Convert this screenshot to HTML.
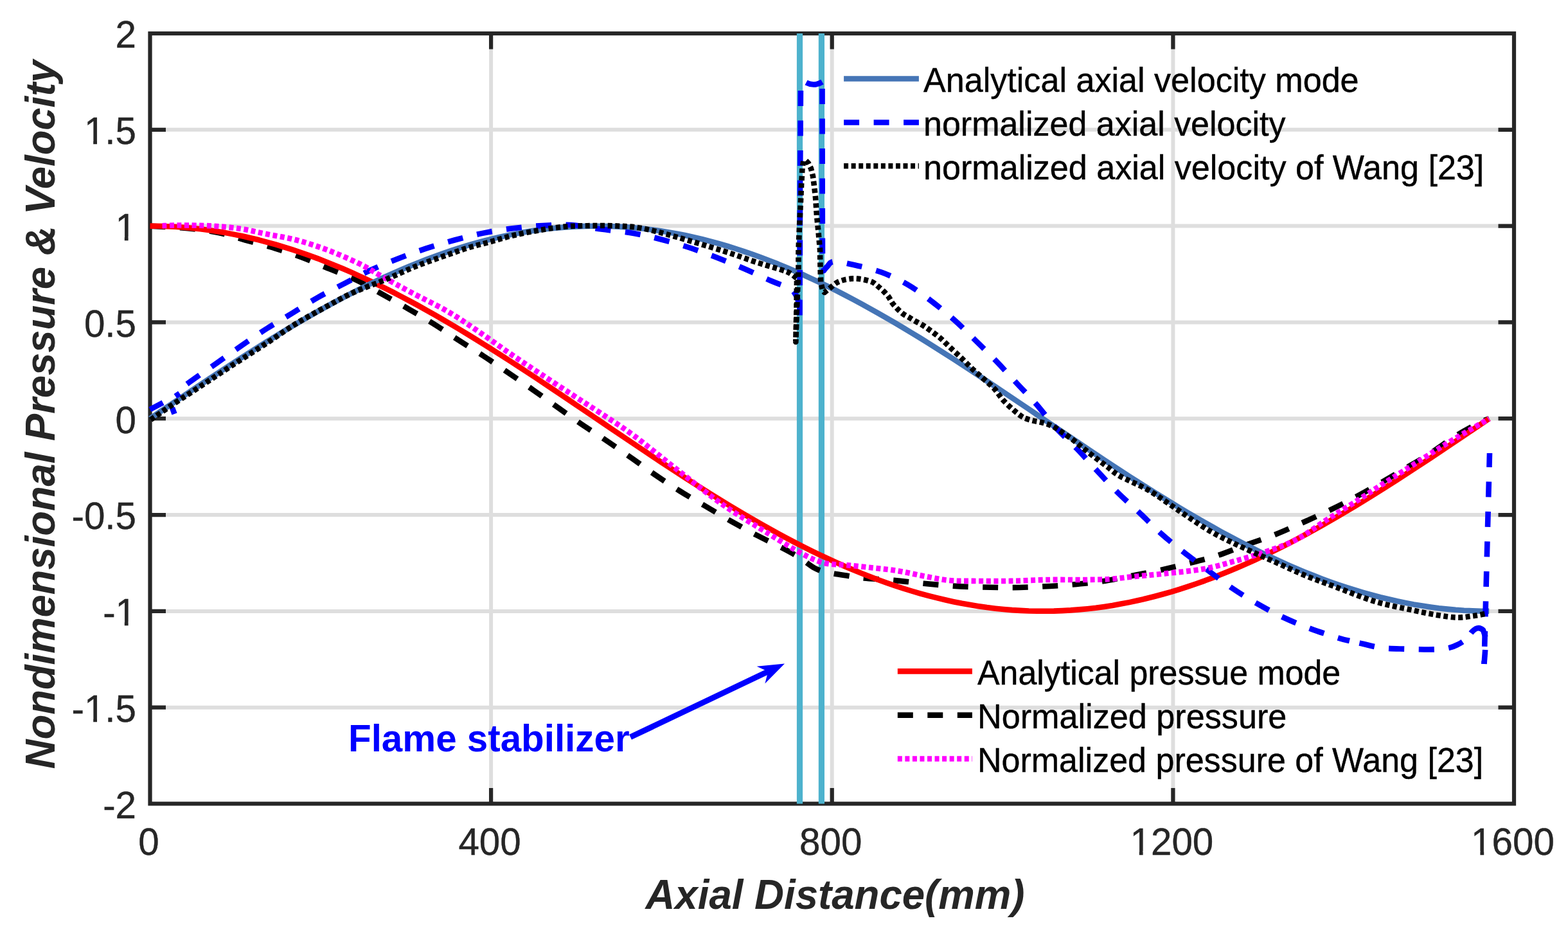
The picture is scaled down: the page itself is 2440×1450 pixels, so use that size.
<!DOCTYPE html>
<html><head><meta charset="utf-8"><title>Nondimensional Pressure &amp; Velocity</title>
<style>html,body{margin:0;padding:0;background:#fff;overflow:hidden;}svg{display:block;}</style></head>
<body>
<svg width="2440" height="1450" viewBox="0 0 2440 1450">
<rect x="0" y="0" width="2440" height="1450" fill="#fff"/>
<path d="M764.1 52 V1250.5 M1294.7 52 V1250.5 M1825.4 52 V1250.5 M233.5 201.8 H2356 M233.5 351.6 H2356 M233.5 501.4 H2356 M233.5 651.2 H2356 M233.5 801 H2356 M233.5 950.9 H2356 M233.5 1100.7 H2356" stroke="#dedede" stroke-width="6" fill="none"/>
<path d="M764.1 1250.5 v-24.5 M764.1 52 v24.5 M1294.7 1250.5 v-24.5 M1294.7 52 v24.5 M1825.4 1250.5 v-24.5 M1825.4 52 v24.5 M233.5 201.8 h24.5 M2356 201.8 h-24.5 M233.5 351.6 h24.5 M2356 351.6 h-24.5 M233.5 501.4 h24.5 M2356 501.4 h-24.5 M233.5 651.2 h24.5 M2356 651.2 h-24.5 M233.5 801 h24.5 M2356 801 h-24.5 M233.5 950.9 h24.5 M2356 950.9 h-24.5 M233.5 1100.7 h24.5 M2356 1100.7 h-24.5" stroke="#262626" stroke-width="6.25" fill="none"/>
<rect x="233.5" y="52" width="2122.5" height="1198.4" stroke="#262626" stroke-width="6.25" fill="none"/>
<path d="M1244.5 52 V1250.5" stroke="#4db2cd" stroke-width="9.2" fill="none"/>
<path d="M1278.4 52 V1250.5" stroke="#4db2cd" stroke-width="9.2" fill="none"/>
<path d="M233.5 351.7 C243.3 352.3 274.6 353.6 292.4 355.3 C310.1 357 325.1 359 340 362 C354.9 365 367.5 369.6 381.7 373.5 C395.9 377.4 410.7 381.1 425.2 385.5 C439.7 389.9 454.1 394.6 468.6 400 C483.1 405.4 497.6 412.1 512.1 418.1 C526.6 424.1 541.2 429.3 555.5 436.2 C569.8 443.1 584.5 452.1 598 459.5 C611.5 466.9 623.4 473.5 636.2 480.9 C649 488.3 661.9 495.8 674.8 503.8 C687.7 511.9 700.4 520.8 713.5 529.2 C726.6 537.7 740.4 546.1 753.3 554.5 C766.2 562.9 778 571.1 790.7 579.8 C803.4 588.4 816.6 597.5 829.3 606.4 C842 615.3 854.2 624.1 866.7 633 C879.2 641.9 892 651.2 904.2 659.5 C916.4 667.8 926.6 673.9 940 683 C953.4 692.1 971.7 704.8 984.8 714 C997.9 723.2 1006.5 729.9 1018.6 738.1 C1030.7 746.4 1044.3 755.5 1057.2 763.5 C1070.1 771.5 1082.6 778.6 1095.9 786.4 C1109.2 794.2 1123.4 802.9 1136.9 810.5 C1150.4 818.1 1163.2 825.2 1176.7 832.3 C1190.2 839.3 1206.4 846.8 1217.8 852.8 C1229.2 858.8 1236.6 862.8 1245 868 C1253.4 873.2 1260.5 880.2 1268 884 C1275.5 887.8 1281.3 889 1290 891 C1298.7 893 1310.9 894.6 1320 896 C1329.1 897.4 1332.7 898.4 1344.5 899.5 C1356.3 900.6 1375.4 901.5 1390.9 902.9 C1406.4 904.3 1422 906.3 1437.3 907.8 C1452.6 909.2 1467.5 910.6 1482.6 911.6 C1497.7 912.6 1512.7 913.1 1528 913.5 C1543.3 913.9 1559 914.2 1574.4 914.1 C1589.9 914 1605.2 913.3 1620.7 912.6 C1636.2 911.9 1651.8 911 1667.1 909.7 C1682.4 908.4 1698.3 906.9 1712.5 904.9 C1726.7 902.9 1737 900.4 1752 897.5 C1767 894.6 1786.7 891.1 1802.8 887.6 C1818.9 884.1 1833.5 880.5 1848.6 876.7 C1863.7 872.9 1878.8 869.3 1893.3 864.7 C1907.8 860.1 1921 854.2 1935.5 849 C1950 843.8 1965.7 838.9 1980.2 833.3 C1994.7 827.7 2008.3 821.4 2022.4 815.2 C2036.5 809 2050.8 802.5 2064.7 795.9 C2078.6 789.3 2092.3 782.5 2105.7 775.4 C2119.1 768.3 2132 760.8 2145.2 753.2 C2158.4 745.6 2171.8 737.7 2184.8 730 C2197.8 722.3 2209.9 715.6 2223.4 706.9 C2236.9 698.2 2253 685.9 2265.9 677.9 C2278.8 669.9 2292 663 2300.6 658.6 C2309.2 654.2 2314.5 652.5 2317.3 651.3" stroke="#000" stroke-width="8.6" fill="none" stroke-linejoin="round" stroke-dasharray="24 22.5"/>
<path d="M233.5 351.6 L246.5 351.8 L259.5 352.2 L272.6 352.8 L285.6 353.7 L298.6 354.9 L311.6 356.3 L324.7 358 L337.7 359.9 L350.7 362.1 L363.7 364.6 L376.8 367.2 L389.8 370.2 L402.8 373.3 L415.8 376.8 L428.9 380.4 L441.9 384.3 L454.9 388.4 L467.9 392.8 L480.9 397.3 L494 402.1 L507 407.2 L520 412.4 L533 417.8 L546.1 423.4 L559.1 429.3 L572.1 435.3 L585.1 441.5 L598.2 447.9 L611.2 454.4 L624.2 461.2 L637.2 468.1 L650.3 475.1 L663.3 482.4 L676.3 489.7 L689.3 497.2 L702.3 504.9 L715.4 512.6 L728.4 520.5 L741.4 528.5 L754.4 536.6 L767.5 544.8 L780.5 553.1 L793.5 561.5 L806.5 569.9 L819.6 578.5 L832.6 587 L845.6 595.7 L858.6 604.4 L871.7 613.1 L884.7 621.9 L897.7 630.7 L910.7 639.5 L923.7 648.3 L936.8 657.1 L949.8 666 L962.8 674.8 L975.8 683.5 L988.9 692.3 L1001.9 701 L1014.9 709.7 L1027.9 718.3 L1041 726.9 L1054 735.4 L1067 743.8 L1080 752.2 L1093 760.4 L1106.1 768.6 L1119.1 776.7 L1132.1 784.6 L1145.1 792.5 L1158.2 800.2 L1171.2 807.8 L1184.2 815.2 L1197.2 822.6 L1210.3 829.7 L1223.3 836.7 L1236.3 843.6 L1249.3 850.3 L1262.4 856.8 L1275.4 863.1 L1288.4 869.2 L1301.4 875.2 L1314.4 881 L1327.5 886.5 L1340.5 891.9 L1353.5 897 L1366.5 902 L1379.6 906.7 L1392.6 911.2 L1405.6 915.5 L1418.6 919.5 L1431.7 923.3 L1444.7 926.9 L1457.7 930.2 L1470.7 933.3 L1483.8 936.2 L1496.8 938.8 L1509.8 941.1 L1522.8 943.2 L1535.8 945.1 L1548.9 946.7 L1561.9 948 L1574.9 949.1 L1587.9 949.9 L1601 950.5 L1614 950.8 L1627 950.8 L1640 950.6 L1653.1 950.1 L1666.1 949.4 L1679.1 948.4 L1692.1 947.2 L1705.2 945.7 L1718.2 943.9 L1731.2 941.9 L1744.2 939.6 L1757.2 937.1 L1770.3 934.3 L1783.3 931.3 L1796.3 928 L1809.3 924.5 L1822.4 920.8 L1835.4 916.8 L1848.4 912.6 L1861.4 908.2 L1874.5 903.6 L1887.5 898.7 L1900.5 893.6 L1913.5 888.3 L1926.6 882.8 L1939.6 877.1 L1952.6 871.3 L1965.6 865.2 L1978.6 858.9 L1991.7 852.4 L2004.7 845.8 L2017.7 839 L2030.7 832.1 L2043.8 825 L2056.8 817.7 L2069.8 810.3 L2082.8 802.7 L2095.9 795.1 L2108.9 787.3 L2121.9 779.3 L2134.9 771.3 L2148 763.2 L2161 754.9 L2174 746.6 L2187 738.2 L2200 729.7 L2213.1 721.2 L2226.1 712.6 L2239.1 703.9 L2252.1 695.2 L2265.2 686.5 L2278.2 677.7 L2291.2 668.9 L2304.2 660.1 L2317.3 651.2" stroke="#ff0000" stroke-width="8.6" fill="none" stroke-linejoin="round" />
<path d="M233.5 651.2 L246.5 642.4 L259.5 633.6 L272.6 624.8 L285.6 616 L298.6 607.3 L311.6 598.6 L324.7 589.9 L337.7 581.3 L350.7 572.8 L363.7 564.3 L376.8 555.9 L389.8 547.6 L402.8 539.3 L415.8 531.2 L428.9 523.2 L441.9 515.2 L454.9 507.4 L467.9 499.8 L480.9 492.2 L494 484.8 L507 477.5 L520 470.4 L533 463.5 L546.1 456.7 L559.1 450.1 L572.1 443.6 L585.1 437.3 L598.2 431.2 L611.2 425.4 L624.2 419.7 L637.2 414.2 L650.3 408.9 L663.3 403.8 L676.3 398.9 L689.3 394.3 L702.3 389.9 L715.4 385.7 L728.4 381.7 L741.4 378 L754.4 374.5 L767.5 371.2 L780.5 368.2 L793.5 365.4 L806.5 362.9 L819.6 360.6 L832.6 358.6 L845.6 356.8 L858.6 355.3 L871.7 354.1 L884.7 353.1 L897.7 352.4 L910.7 351.9 L923.7 351.7 L936.8 351.7 L949.8 352 L962.8 352.6 L975.8 353.4 L988.9 354.5 L1001.9 355.8 L1014.9 357.4 L1027.9 359.3 L1041 361.4 L1054 363.7 L1067 366.3 L1080 369.2 L1093 372.3 L1106.1 375.6 L1119.1 379.2 L1132.1 383 L1145.1 387 L1158.2 391.3 L1171.2 395.8 L1184.2 400.5 L1197.2 405.5 L1210.3 410.6 L1223.3 416 L1236.3 421.5 L1249.3 427.3 L1262.4 433.3 L1275.4 439.4 L1288.4 445.7 L1301.4 452.2 L1314.4 458.9 L1327.5 465.8 L1340.5 472.8 L1353.5 479.9 L1366.5 487.3 L1379.6 494.7 L1392.6 502.3 L1405.6 510 L1418.6 517.9 L1431.7 525.8 L1444.7 533.9 L1457.7 542.1 L1470.7 550.3 L1483.8 558.7 L1496.8 567.1 L1509.8 575.6 L1522.8 584.2 L1535.8 592.8 L1548.9 601.5 L1561.9 610.2 L1574.9 619 L1587.9 627.7 L1601 636.5 L1614 645.4 L1627 654.2 L1640 663 L1653.1 671.8 L1666.1 680.6 L1679.1 689.4 L1692.1 698.1 L1705.2 706.8 L1718.2 715.5 L1731.2 724 L1744.2 732.6 L1757.2 741 L1770.3 749.4 L1783.3 757.7 L1796.3 765.9 L1809.3 774 L1822.4 782 L1835.4 789.9 L1848.4 797.6 L1861.4 805.3 L1874.5 812.8 L1887.5 820.1 L1900.5 827.4 L1913.5 834.4 L1926.6 841.3 L1939.6 848.1 L1952.6 854.6 L1965.6 861 L1978.6 867.2 L1991.7 873.2 L2004.7 879.1 L2017.7 884.7 L2030.7 890.1 L2043.8 895.3 L2056.8 900.4 L2069.8 905.2 L2082.8 909.7 L2095.9 914.1 L2108.9 918.2 L2121.9 922.1 L2134.9 925.7 L2148 929.2 L2161 932.3 L2174 935.3 L2187 937.9 L2200 940.4 L2213.1 942.6 L2226.1 944.5 L2239.1 946.2 L2252.1 947.6 L2265.2 948.8 L2278.2 949.7 L2291.2 950.3 L2304.2 950.7 L2317.3 950.9" stroke="#4575b6" stroke-width="8.6" fill="none" stroke-linejoin="round" />
<path d="M233.5 637 L253.5 626.5" stroke="#0000ff" stroke-width="8.6" fill="none" stroke-linejoin="round" />
<path d="M268 634.5 L271.5 644" stroke="#0000ff" stroke-width="8.6" fill="none" stroke-linejoin="round" />
<path d="M273 616.5 L279.5 612" stroke="#0000ff" stroke-width="8.6" fill="none" stroke-linejoin="round" />
<path d="M291 597.5 C292.8 596.2 293.7 595.3 302 589.5 C310.3 583.7 328.2 571.2 340.7 562.5 C353.2 553.8 364.4 545.6 376.9 537 C389.4 528.4 402.4 519.4 415.5 511 C428.6 502.6 442.1 495 455.4 486.9 C468.7 478.8 481.7 470.1 495.2 462.5 C508.7 454.9 522.7 448 536.2 441 C549.7 434 562.2 426.9 576.1 420.5 C590 414.1 604.8 408 619.3 402.4 C633.8 396.8 648.1 391.5 662.8 386.7 C677.5 381.9 692.5 377.5 707.4 373.5 C722.3 369.5 737 365.6 752.1 362.6 C767.2 359.6 782.7 357.2 798 355.3 C813.3 353.4 828.6 351.9 843.8 351 C859 350.1 873.7 349.1 889 350 C904.3 350.9 919.3 354.4 935.5 356.6 C951.7 358.8 970.8 360.4 986 363 C1001.2 365.6 1012.7 368.3 1027 372 C1041.3 375.7 1057.3 380.2 1072 385 C1086.7 389.8 1100.7 395.1 1115 400.6 C1129.3 406.1 1143.8 411.9 1158 418 C1172.2 424.1 1188.8 432.2 1200 437 C1211.2 441.8 1219 444 1225 447 C1231 450 1233.2 451.5 1236 455 C1238.8 458.5 1240.6 461.8 1242 468 C1243.4 474.2 1244.1 488 1244.5 492" stroke="#0000ff" stroke-width="8.6" fill="none" stroke-linejoin="round" stroke-dasharray="24 22.5"/>
<path d="M1244.5 492 L1245 300 L1246 128" stroke="#0000ff" stroke-width="8.6" fill="none" stroke-linejoin="round" stroke-dasharray="24 22.5" stroke-dashoffset="-1.5"/>
<path d="M1254.5 128.5 Q1267 135 1279.5 127.5" stroke="#0000ff" stroke-width="8.6" fill="none" stroke-linejoin="round" />
<path d="M1279.5 128 L1279.7 300 L1280 410 L1282 421 L1282 421 C1282.8 420 1284.5 417.3 1287 415 C1289.5 412.7 1290.5 407.6 1297 407 C1303.5 406.4 1313.6 408.8 1326 411.5 C1338.4 414.2 1357.1 418.3 1371.4 423.5 C1385.7 428.7 1399 435 1412 442.5 C1425 450 1437.2 459.2 1449.4 468.5 C1461.7 477.8 1474 488.1 1485.5 498.3 C1497 508.5 1507.2 519 1518.1 529.7 C1529 540.4 1540 551.2 1550.7 562.3 C1561.4 573.4 1571.6 584.9 1582.1 596.1 C1592.6 607.4 1603.5 618.3 1613.5 629.8 C1623.5 641.3 1632 653.4 1642.4 664.9 C1652.9 676.4 1665.8 687.8 1676.2 698.6 C1686.6 709.5 1694.4 718.6 1705 730 C1715.6 741.4 1728.5 755.6 1740 767 C1751.5 778.4 1762.7 787.8 1773.8 798.3 C1784.9 808.8 1795.1 819.7 1806.4 829.7 C1817.7 839.8 1829.1 849 1841.4 858.6 C1853.7 868.2 1867.5 878.3 1880 887.6 C1892.5 896.9 1903.7 905.8 1916.2 914.2 C1928.7 922.7 1941.5 930.7 1954.8 938.3 C1968.1 945.9 1981.8 953.4 1995.9 960 C2010 966.6 2024.8 972.7 2039.3 978.1 C2053.8 983.5 2072.7 989.5 2082.8 992.6 C2092.9 995.8 2097.1 996.3 2100 997" stroke="#0000ff" stroke-width="8.6" fill="none" stroke-linejoin="round" stroke-dasharray="24 22.5" stroke-dashoffset="-10"/>
<path d="M2100 997 C2103.3 997.8 2111.7 999.7 2120 1001.5 C2128.3 1003.3 2138.5 1006.5 2149.7 1007.9 C2160.8 1009.3 2173.4 1009.3 2186.9 1009.7 C2200.4 1010.1 2219 1010.7 2230.4 1010.4 C2241.8 1010.1 2248.6 1009.3 2255.2 1007.9 C2261.8 1006.5 2265.7 1004.1 2270 1002 C2274.3 999.9 2279.2 996.2 2281 995" stroke="#0000ff" stroke-width="8.6" fill="none" stroke-linejoin="round" stroke-dasharray="24 22.5" stroke-dashoffset="-16"/>
<path d="M2289 985 Q2299 972 2308 980.5 L2311.5 991" stroke="#0000ff" stroke-width="8.6" fill="none" stroke-linejoin="round" />
<path d="M2311.2 1011 L2309.5 1033" stroke="#0000ff" stroke-width="8.6" fill="none" stroke-linejoin="round" />
<path d="M2309.5 1033 L2318 705" stroke="#0000ff" stroke-width="8.6" fill="none" stroke-linejoin="round" stroke-dasharray="24 22.5" stroke-dashoffset="-27.2"/>
<path d="M252.5 351.2 C257.1 351.1 267.1 350.4 280 350.5 C292.9 350.6 314.2 350.6 330 351.5 C345.8 352.4 361.1 353.9 375 356 C388.9 358.1 398.7 360.9 413.1 363.8 C427.5 366.7 445.3 369.3 461.4 373.5 C477.5 377.7 493.6 383 509.7 389 C525.8 395 543.9 402.9 558 409.7 C572.1 416.5 580.5 422.4 594.2 430 C607.9 437.6 622.9 445.9 640 455 C657.1 464.1 679.1 474.3 696.6 484.5 C714.1 494.7 728.9 505.1 745 516 C761.1 526.9 777.3 538.9 793.1 549.7 C808.9 560.5 823.9 570.4 840 581 C856.1 591.6 873.9 603.3 889.7 613.6 C905.5 623.9 918.9 632.3 935 643 C951.1 653.7 966.6 663.1 986.2 677.6 C1005.8 692.1 1029.3 711.8 1052.4 729.7 C1075.5 747.6 1100.7 768.3 1124.8 785.2 C1148.9 802.1 1177.2 818.5 1197.3 831 C1217.4 843.5 1231.4 852.5 1245.5 860 C1259.6 867.5 1269.7 872.5 1281.8 875.7 C1293.9 878.9 1305 878 1318 879.3 C1331 880.6 1346.6 882.1 1360 883.6 C1373.4 885.1 1385.7 886.3 1398.6 888.4 C1411.5 890.5 1424.4 893.8 1437.3 896.2 C1450.2 898.6 1463 901.6 1475.9 902.9 C1488.8 904.2 1498.4 903.7 1514.5 903.9 C1530.6 904.1 1553.2 904.2 1572.5 903.9 C1591.8 903.6 1611.1 902.3 1630.4 902 C1649.7 901.7 1672.2 902.2 1688.3 902 C1704.4 901.8 1715 901.8 1727 901 C1739 900.2 1745.8 898.9 1760 897.5 C1774.2 896.1 1793.6 894.4 1812.4 892.4 C1831.2 890.4 1854.7 888.4 1872.8 885.2 C1890.9 882 1904.9 877.5 1921 873.1 C1937.1 868.7 1953.2 864.2 1969.3 858.6 C1985.4 853 2001.5 847.8 2017.6 839.3 C2033.7 830.8 2049.8 818.2 2065.9 807.9 C2082 797.6 2099.3 787 2114.2 777.5 C2129 768 2141.6 759.5 2155 751 C2168.4 742.5 2178.2 736.5 2194.4 726.2 C2210.6 716 2231.9 702 2252.4 689.5 C2272.9 677 2306.5 657.8 2317.3 651.5" stroke="#ff00ff" stroke-width="8.6" fill="none" stroke-linejoin="round" stroke-dasharray="7 4.55"/>
<path d="M234.5 653 C240.4 648.9 256.3 637.7 270 628.5 C283.7 619.3 300.8 608.4 316.6 598 C332.4 587.6 348.9 576.5 365 566 C381.1 555.5 397.3 545.5 413.1 535.2 C428.9 524.9 443.9 513.9 460 504 C476.1 494.1 494.7 484.2 509.7 476 C524.7 467.8 535 461.8 550 455 C565 448.2 583.7 441.8 600 435 C616.3 428.2 631.9 420.4 648 414 C664.1 407.6 682.9 401.2 696.6 396.4 C710.3 391.6 718.7 388.4 730 385 C741.3 381.6 752.5 379.1 764.2 375.9 C775.9 372.7 787.1 369 800 366 C812.9 363 828.1 360.1 841.4 357.8 C854.7 355.6 867.9 353.6 880 352.5 C892.1 351.4 900.5 351.4 913.8 351.2 C927.1 351 945.6 350.8 960 351.5 C974.4 352.2 984.6 352.4 1000 355.3 C1015.4 358.2 1031.6 362.8 1052.4 368.6 C1073.2 374.4 1103.5 383.6 1124.8 390.3 C1146.1 397 1165.2 404.2 1180 409 C1194.8 413.8 1205.6 416.4 1213.6 419 C1221.6 421.6 1223.6 422.1 1228 424.4 C1232.4 426.7 1238 431.6 1240 433 L1240 433 L1239.5 480 L1238.3 532 L1240 480 L1242.5 420 L1242.5 389 L1244 352.7 L1245.8 316.9 L1247.2 285 L1248.5 262 L1250.4 250 L1254 250 L1258 254 L1262 262 L1265 274 L1267.3 291.8 L1269.1 307.9 L1270.9 334.8 L1273.6 361.7 L1276 388.6 L1276.5 415.4 L1277.2 438.7 L1280 451 L1283 455 L1283 455 C1284.5 453.8 1289 450.1 1292.2 447.6 C1295.4 445.1 1298.7 441.8 1301.9 439.9 C1305.1 438 1307.8 437.1 1311.5 436 C1315.2 434.9 1320.1 434 1324 433.6 C1327.9 433.2 1331 433.3 1334.7 433.6 C1338.4 433.9 1342.4 434.6 1346.3 435.5 C1350.2 436.4 1354.5 437.3 1357.9 439 C1361.3 440.7 1363.7 443.3 1366.6 445.7 C1369.5 448.1 1372.6 450.7 1375.3 453.4 C1378 456.1 1380.8 459.1 1383 462.1 C1385.2 465.2 1386.5 468.6 1388.8 471.7 C1391 474.8 1393.8 477.6 1396.5 480.4 C1399.2 483.1 1402.1 485.9 1405.2 488.2 C1408.3 490.5 1411.7 492.1 1414.9 494 C1418.1 495.9 1421.1 497.8 1424.5 499.7 C1427.9 501.6 1431.7 503.4 1435.1 505.5 C1438.5 507.6 1440.1 508.6 1444.8 512 C1449.5 515.4 1457.2 520.8 1463 525.8 C1468.8 530.8 1474.1 536.4 1479.7 541.7 C1485.3 547 1491.2 552.2 1496.7 557.6 C1502.2 563 1507.4 568.5 1513 573.8 C1518.6 579.1 1524.7 584 1530.4 589.2 C1536.2 594.4 1542.3 599.4 1547.5 605 C1552.7 610.6 1556.2 617.3 1561.3 622.9 C1566.4 628.5 1573.2 634.4 1578 638.6 C1582.8 642.8 1586.8 645.9 1590 648 C1593.2 650.1 1594.1 650.3 1597.1 651.4 C1600.1 652.5 1604.5 653.8 1608.2 654.7 C1611.9 655.6 1615.7 655.9 1619.4 656.8 C1623.1 657.7 1626.9 658.7 1630.5 660 C1634.1 661.3 1637.6 662.9 1641 664.8 C1644.4 666.7 1646.2 668.1 1651 671.3 C1655.8 674.5 1663.7 679.7 1669.7 684.2 C1675.7 688.8 1681.2 693.8 1687.2 698.6 C1693.2 703.4 1699.5 708.2 1705.6 712.9 C1711.7 717.6 1717.8 722.2 1724 726.8 C1730.2 731.4 1732.1 734.6 1742.8 740.7 C1753.5 746.8 1772.7 754.1 1788.3 763.3 C1803.9 772.5 1820.5 785.2 1836.6 795.9 C1852.7 806.6 1868.7 818 1884.8 827.3 C1900.9 836.5 1917 843.8 1933.1 851.4 C1949.2 859 1965.3 865.9 1981.4 873.1 C1997.5 880.3 2013.6 888.1 2029.7 894.8 C2045.8 901.4 2059.6 906.1 2078 913 C2096.4 919.9 2119.8 929.8 2140 935.9 C2160.2 942 2183.2 946 2199.3 949.5 C2215.4 953 2225.2 955.1 2236.6 957 C2248 958.9 2258.3 960.5 2267.6 960.7 C2276.9 960.9 2284.8 959.2 2292.5 958.2 C2300.2 957.2 2310.1 955.1 2313.6 954.5" stroke="#000" stroke-width="8.6" fill="none" stroke-linejoin="round" stroke-dasharray="7 4.55"/>
<text x="212" y="74.3" font-family="Liberation Sans, Arial, Helvetica, sans-serif" font-size="58.33" fill="#262626" stroke="#262626" stroke-width="0.4" text-anchor="end">2</text>
<text x="212" y="224.1" font-family="Liberation Sans, Arial, Helvetica, sans-serif" font-size="58.33" fill="#262626" stroke="#262626" stroke-width="0.4" text-anchor="end">1.5</text>
<text x="212" y="373.9" font-family="Liberation Sans, Arial, Helvetica, sans-serif" font-size="58.33" fill="#262626" stroke="#262626" stroke-width="0.4" text-anchor="end">1</text>
<text x="212" y="523.8" font-family="Liberation Sans, Arial, Helvetica, sans-serif" font-size="58.33" fill="#262626" stroke="#262626" stroke-width="0.4" text-anchor="end">0.5</text>
<text x="212" y="673.5" font-family="Liberation Sans, Arial, Helvetica, sans-serif" font-size="58.33" fill="#262626" stroke="#262626" stroke-width="0.4" text-anchor="end">0</text>
<text x="212" y="823.3" font-family="Liberation Sans, Arial, Helvetica, sans-serif" font-size="58.33" fill="#262626" stroke="#262626" stroke-width="0.4" text-anchor="end">-0.5</text>
<text x="212" y="973.1" font-family="Liberation Sans, Arial, Helvetica, sans-serif" font-size="58.33" fill="#262626" stroke="#262626" stroke-width="0.4" text-anchor="end">-1</text>
<text x="212" y="1123" font-family="Liberation Sans, Arial, Helvetica, sans-serif" font-size="58.33" fill="#262626" stroke="#262626" stroke-width="0.4" text-anchor="end">-1.5</text>
<text x="212" y="1272.8" font-family="Liberation Sans, Arial, Helvetica, sans-serif" font-size="58.33" fill="#262626" stroke="#262626" stroke-width="0.4" text-anchor="end">-2</text>
<text x="231.5" y="1329.5" font-family="Liberation Sans, Arial, Helvetica, sans-serif" font-size="58.33" fill="#262626" stroke="#262626" stroke-width="0.4" text-anchor="middle">0</text>
<text x="762.1" y="1329.5" font-family="Liberation Sans, Arial, Helvetica, sans-serif" font-size="58.33" fill="#262626" stroke="#262626" stroke-width="0.4" text-anchor="middle">400</text>
<text x="1292.7" y="1329.5" font-family="Liberation Sans, Arial, Helvetica, sans-serif" font-size="58.33" fill="#262626" stroke="#262626" stroke-width="0.4" text-anchor="middle">800</text>
<text x="1823.4" y="1329.5" font-family="Liberation Sans, Arial, Helvetica, sans-serif" font-size="58.33" fill="#262626" stroke="#262626" stroke-width="0.4" text-anchor="middle">1200</text>
<text x="2354" y="1329.5" font-family="Liberation Sans, Arial, Helvetica, sans-serif" font-size="58.33" fill="#262626" stroke="#262626" stroke-width="0.4" text-anchor="middle">1600</text>
<path d="M133.4 218.5 H145.2 V225.7 H133.4 Z M151 218.5 H162.9 V225.7 H151 Z M182 368.3 H193.8 V375.6 H182 Z M199.6 368.3 H211.5 V375.6 H199.6 Z M182 967.5 H193.8 V974.8 H182 Z M199.6 967.5 H211.5 V974.8 H199.6 Z M133.4 1117.4 H145.2 V1124.5 H133.4 Z M151 1117.4 H162.9 V1124.5 H151 Z M1761 1323.9 H1772.8 V1331.1 H1761 Z M1778.6 1323.9 H1790.5 V1331.1 H1778.6 Z M2291.6 1323.9 H2303.4 V1331.1 H2291.6 Z M2309.2 1323.9 H2321.1 V1331.1 H2309.2 Z" fill="#fff"/>
<text x="1299.5" y="1413.8" font-family="Liberation Sans, Arial, Helvetica, sans-serif" font-size="64.17" font-weight="bold" font-style="italic" fill="#262626" text-anchor="middle" textLength="590.1" lengthAdjust="spacingAndGlyphs">Axial Distance(mm)</text>
<text transform="translate(85 644.85) rotate(-90)" x="0" y="0" font-family="Liberation Sans, Arial, Helvetica, sans-serif" font-size="64.17" font-weight="bold" font-style="italic" fill="#262626" text-anchor="middle" textLength="1102.6" lengthAdjust="spacingAndGlyphs">Nondimensional Pressure &amp; Velocity</text>
<path d="M1313.1 122.5 H1429.9" stroke="#4575b6" stroke-width="8.6" fill="none" />
<text x="1437" y="142.9" font-family="Liberation Sans, Arial, Helvetica, sans-serif" font-size="54" fill="#000" stroke="#000" stroke-width="0.45" textLength="677.6" lengthAdjust="spacingAndGlyphs">Analytical axial velocity mode</text>
<path d="M1313.1 190.5 H1429.9" stroke="#0000ff" stroke-width="8.6" fill="none" stroke-dasharray="24 22.5"/>
<text x="1437" y="210.9" font-family="Liberation Sans, Arial, Helvetica, sans-serif" font-size="54" fill="#000" stroke="#000" stroke-width="0.45" textLength="563.5" lengthAdjust="spacingAndGlyphs">normalized axial velocity</text>
<path d="M1313.1 258.2 H1429.9" stroke="#000" stroke-width="8.6" fill="none" stroke-dasharray="7 4.55"/>
<text x="1437" y="278.6" font-family="Liberation Sans, Arial, Helvetica, sans-serif" font-size="54" fill="#000" stroke="#000" stroke-width="0.45" textLength="872.3" lengthAdjust="spacingAndGlyphs">normalized axial velocity of Wang [23]</text>
<path d="M1396.8 1044.4 H1512.9" stroke="#ff0000" stroke-width="8.6" fill="none" />
<text x="1521" y="1064.8" font-family="Liberation Sans, Arial, Helvetica, sans-serif" font-size="54" fill="#000" stroke="#000" stroke-width="0.45" textLength="565.2" lengthAdjust="spacingAndGlyphs">Analytical pressue mode</text>
<path d="M1396.8 1112.6 H1512.9" stroke="#000" stroke-width="8.6" fill="none" stroke-dasharray="24 22.5"/>
<text x="1521" y="1133" font-family="Liberation Sans, Arial, Helvetica, sans-serif" font-size="54" fill="#000" stroke="#000" stroke-width="0.45" textLength="481.3" lengthAdjust="spacingAndGlyphs">Normalized pressure</text>
<path d="M1396.8 1180.5 H1512.9" stroke="#ff00ff" stroke-width="8.6" fill="none" stroke-dasharray="7 4.55"/>
<text x="1521" y="1200.9" font-family="Liberation Sans, Arial, Helvetica, sans-serif" font-size="54" fill="#000" stroke="#000" stroke-width="0.45" textLength="787.2" lengthAdjust="spacingAndGlyphs">Normalized pressure of Wang [23]</text>
<text x="542" y="1168.6" font-family="Liberation Sans, Arial, Helvetica, sans-serif" font-size="58.33" font-weight="bold" fill="#0000ff">Flame stabilizer</text>
<path d="M981 1146.8 L1195.2 1044.7" stroke="#0000ff" stroke-width="9" fill="none"/>
<path d="M1221 1032.4 L1190.4 1063.4 L1195.2 1044.7 L1177.6 1036.7 Z" fill="#0000ff"/>
</svg>
</body></html>
